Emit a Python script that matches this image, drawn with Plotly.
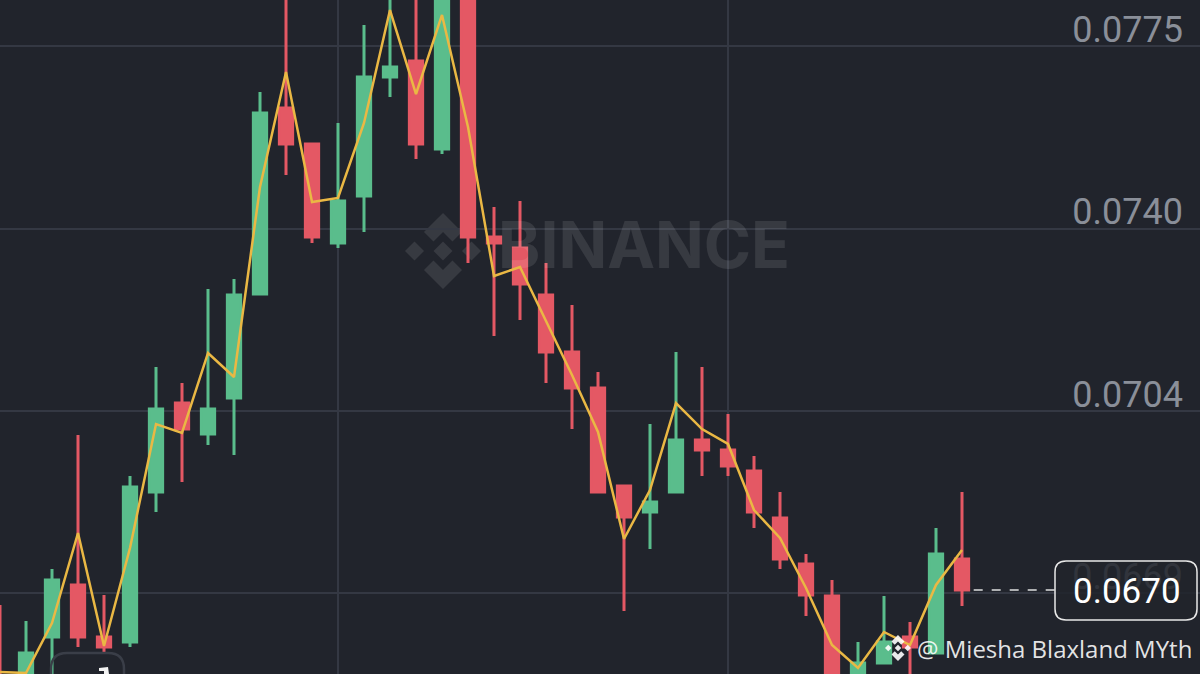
import plotly.graph_objects as go

# ---------------- data (prices) ----------------
idx = list(range(38))
opens = [0.065222, 0.064834, 0.066055, 0.067063, 0.066055, 0.065958, 0.068866, 0.070590,
         0.069990, 0.070687, 0.072703, 0.076308, 0.075610, 0.073692, 0.074603, 0.076909,
         0.077219, 0.075513, 0.078595, 0.073808, 0.073595, 0.072684, 0.071579, 0.070881,
         0.068982, 0.068478, 0.068866, 0.069873, 0.069680, 0.069273, 0.068362, 0.067470,
         0.066850, 0.065028, 0.065551, 0.066055, 0.065745, 0.067567]
highs = [0.066675, 0.066365, 0.067373, 0.069970, 0.066869, 0.069176, 0.071288, 0.070978,
         0.072800, 0.072994, 0.076618, 0.078983, 0.075610, 0.076017, 0.077917, 0.078789,
         0.078789, 0.078983, 0.078789, 0.074389, 0.074506, 0.073304, 0.072490, 0.071191,
         0.068982, 0.070183, 0.071579, 0.071288, 0.070377, 0.069563, 0.068866, 0.067664,
         0.067160, 0.065958, 0.066850, 0.066346, 0.068168, 0.068866]
lows = [0.064640, 0.064640, 0.065222, 0.065861, 0.065764, 0.065861, 0.068478, 0.069059,
        0.069776, 0.069583, 0.072690, 0.075010, 0.073692, 0.073595, 0.073905, 0.076521,
        0.075320, 0.075417, 0.073304, 0.071889, 0.072199, 0.070978, 0.070086, 0.068866,
        0.066559, 0.067761, 0.068866, 0.069176, 0.069176, 0.068168, 0.067373, 0.066462,
        0.064834, 0.064931, 0.065551, 0.065028, 0.065745, 0.066656]
closes = [0.064834, 0.065745, 0.067160, 0.066055, 0.065861, 0.068962, 0.070474, 0.070086,
          0.070474, 0.072684, 0.076211, 0.075610, 0.073808, 0.074506, 0.076909, 0.077103,
          0.075610, 0.078595, 0.073808, 0.073692, 0.072897, 0.071579, 0.070881, 0.068866,
          0.068381, 0.068672, 0.069873, 0.069680, 0.069369, 0.068478, 0.067567, 0.066869,
          0.065028, 0.065551, 0.065958, 0.065861, 0.067664, 0.066966]
ma_line = [0.065377, 0.065357, 0.066326, 0.068071, 0.065880, 0.067780, 0.070183, 0.070009,
           0.071560, 0.071094, 0.074777, 0.077006, 0.074486, 0.074564, 0.076017, 0.078207,
           0.076579, 0.078111, 0.075940, 0.073052, 0.073226, 0.072180, 0.071133, 0.070028,
           0.067955, 0.068904, 0.070590, 0.070086, 0.069796, 0.068517, 0.067974, 0.067005,
           0.065900, 0.065454, 0.066152, 0.065900, 0.067063, 0.067741]
price_ticks = [0.066900, 0.070433, 0.073967, 0.077500]
watermark = "BINANCE"
credit = "@ Miesha Blaxland MYth"

# ---------------- style ----------------
W, H = 1200, 674
BG = "#21242c"
GREEN = "#5abd8c"
RED = "#e45864"
GRID = "#343843"
TICK = "#8a8f99"
YMIN, YMAX = 0.065338, 0.078401
XMAX = W / 26.0


def P(px, py):
    return px / W, 1 - py / H


def rrect(x0, y0, x1, y1, r):
    def pt(x, y):
        a, b = P(x, y)
        return f"{a:.5f},{b:.5f}"
    return (f"M{pt(x0 + r, y0)} L{pt(x1 - r, y0)} Q{pt(x1, y0)} {pt(x1, y0 + r)} "
            f"L{pt(x1, y1 - r)} Q{pt(x1, y1)} {pt(x1 - r, y1)} L{pt(x0 + r, y1)} "
            f"Q{pt(x0, y1)} {pt(x0, y1 - r)} L{pt(x0, y0 + r)} Q{pt(x0, y0)} {pt(x0 + r, y0)} Z")


def logo_paths(cx, cy, s):
    polys = [
        [(0, -0.25), (0.25, 0), (0, 0.25), (-0.25, 0)],
        [(-1, 0), (-0.75, -0.25), (-0.5, 0), (-0.75, 0.25)],
        [(1, 0), (0.75, -0.25), (0.5, 0), (0.75, 0.25)],
        [(0, -1), (0.5, -0.5), (0.25, -0.25), (0, -0.5), (-0.25, -0.25), (-0.5, -0.5)],
        [(0, 1), (0.5, 0.5), (0.25, 0.25), (0, 0.5), (-0.25, 0.25), (-0.5, 0.5)],
    ]
    out = []
    for poly in polys:
        segs = []
        for i, (u, v) in enumerate(poly):
            a, b = P(cx + u * s, cy + v * s)
            segs.append(("M" if i == 0 else "L") + f"{a:.5f},{b:.5f}")
        out.append(" ".join(segs) + " Z")
    return out


fig = go.Figure()

# watermark text (drawn first, under the candles)
fig.add_trace(go.Scatter(
    x=[644 / 26.0], y=[YMAX - 252 * (YMAX - YMIN) / H], mode="text", text=[watermark],
    textfont=dict(family="Inter", size=64, color="rgba(255,255,255,0.10)", weight="bold"),
    textposition="middle center", hoverinfo="skip", showlegend=False))

fig.add_trace(go.Candlestick(
    x=idx, open=opens, high=highs, low=lows, close=closes,
    increasing=dict(fillcolor=GREEN, line=dict(color=GREEN, width=3)),
    decreasing=dict(fillcolor=RED, line=dict(color=RED, width=3)),
    whiskerwidth=0, showlegend=False, hoverinfo="skip"))

fig.add_trace(go.Scatter(
    x=idx, y=ma_line, mode="lines", line=dict(color="#eab844", width=2.5),
    showlegend=False, hoverinfo="skip"))

shapes = []
for p in logo_paths(443, 251, 38):
    shapes.append(dict(type="path", path=p, xref="paper", yref="paper",
                       fillcolor="rgba(255,255,255,0.10)", line=dict(width=0), layer="between"))
# dashed last-price line
shapes.append(dict(type="line", xref="x", yref="y", x0=37.45, x1=1055 / 26.0,
                   y0=closes[-1], y1=closes[-1],
                   line=dict(color="rgba(255,255,255,0.85)", width=1.5, dash="dash"), layer="above"))
# last-price box
shapes.append(dict(type="path", path=rrect(1055, 561, 1197, 620, 11), xref="paper", yref="paper",
                   fillcolor="rgba(33,36,44,0.85)", line=dict(color="#e8e8e8", width=1.5), layer="above"))
# bottom-left button outline
shapes.append(dict(type="path", path=rrect(51, 653, 124, 700, 16), xref="paper", yref="paper",
                   fillcolor="rgba(0,0,0,0)", line=dict(color="#3a3e48", width=2.5), layer="above"))
# small white glyph in the button
gl = [(99, 668), (108, 667), (109, 674), (104, 674), (104, 671), (99, 671)]
gpath = " ".join(("M" if i == 0 else "L") + "{:.5f},{:.5f}".format(*P(x, y)) for i, (x, y) in enumerate(gl)) + " Z"
shapes.append(dict(type="path", path=gpath, xref="paper", yref="paper",
                   fillcolor="#f2f2f2", line=dict(width=0), layer="above"))
# small credit logo
for p in logo_paths(898, 648, 13):
    shapes.append(dict(type="path", path=p, xref="paper", yref="paper",
                       fillcolor="rgba(255,255,255,0.9)", line=dict(width=0), layer="above"))

annotations = [
    dict(x=1183 / W, y=1 - 591 / H, xref="paper", yref="paper", xanchor="right", yanchor="middle",
         text=f"{closes[-1]:.4f}", showarrow=False,
         font=dict(family="Roboto", size=35, color="#ffffff")),
    dict(x=915 / W, y=1 - 648 / H, xref="paper", yref="paper", xanchor="left", yanchor="middle",
         text=credit, showarrow=False,
         font=dict(family="Open Sans", size=24, color="rgba(255,255,255,0.88)")),
]

fig.update_layout(
    width=W, height=H, autosize=False,
    margin=dict(l=0, r=0, t=0, b=0),
    paper_bgcolor=BG, plot_bgcolor=BG,
    showlegend=False, boxgap=0.27,
    shapes=shapes, annotations=annotations,
    xaxis=dict(range=[0, XMAX], rangeslider=dict(visible=False), showticklabels=False,
               tickvals=[13, 28], showgrid=True, gridcolor=GRID, gridwidth=1.5,
               zeroline=False, showline=False, ticks=""),
    yaxis=dict(range=[YMIN, YMAX], side="right", ticklabelposition="inside top",
               tickvals=price_ticks, tickformat=".4f", showgrid=True, gridcolor=GRID, gridwidth=1.5,
               zeroline=False, showline=False, ticks="", ticklabelstandoff=14, ticklabelshift=8,
               tickfont=dict(family="Roboto", size=36, color=TICK)),
)

fig.write_html("out.html", config={"displayModeBar": False},
               post_script="document.body.style.margin='0';")
